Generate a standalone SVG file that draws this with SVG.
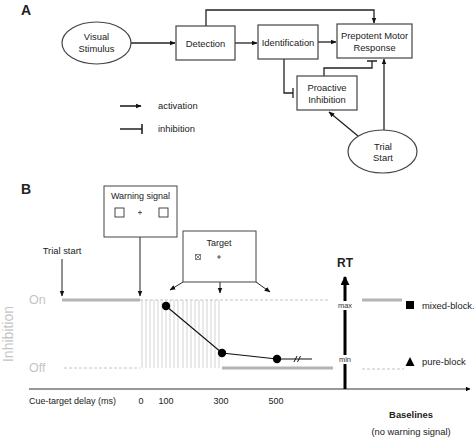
<svg xmlns="http://www.w3.org/2000/svg" width="474" height="438" viewBox="0 0 474 438">
<defs>
<marker id="ah" viewBox="0 0 10 10" refX="9" refY="5" markerWidth="6" markerHeight="6" markerUnits="userSpaceOnUse" orient="auto"><path d="M0,1 L10,5 L0,9 z" fill="#111"/></marker>
<marker id="ahb" viewBox="0 0 10 10" refX="9" refY="5" markerWidth="4" markerHeight="4" orient="auto"><path d="M0,0 L10,5 L0,10 z" fill="#000"/></marker>
<marker id="ahr" viewBox="0 0 10 10" refX="9" refY="5" markerWidth="9" markerHeight="9" markerUnits="userSpaceOnUse" orient="auto"><path d="M0,0 L10,5 L0,10 z" fill="#000"/></marker>
</defs>
<style>
.t{font-family:"Liberation Sans",Arial,sans-serif;font-size:9.4px;fill:#222}
.c{text-anchor:middle}
.b{font-weight:bold}
.box{fill:#fff;stroke:#444;stroke-width:1.2}
.ln{fill:none;stroke:#222;stroke-width:1.3}
.g{font-family:"Liberation Sans",Arial,sans-serif;font-size:12.5px;fill:#c4c4c4}
.gl{stroke:#b4b4b4;stroke-width:3;fill:none}
.dl{stroke:#c4c4c4;stroke-width:1;stroke-dasharray:3,2;fill:none}
.st{stroke:#c8c8c8;stroke-width:0.8}
</style>
<text class="t b" x="21" y="15" style="font-size:14px">A</text>
<text class="t b" x="21" y="194" style="font-size:14px">B</text>

<g id="connectors">
<path class="ln" d="M131,43 H175" marker-end="url(#ah)"/>
<path class="ln" d="M206,26 V10 H374 V23" marker-end="url(#ah)"/>
<path class="ln" d="M235,43 H257" marker-end="url(#ah)"/>
<path class="ln" d="M318,42 H336" marker-end="url(#ah)"/>
<path class="ln" d="M284,59 V93 H293 M293,88 V98"/>
<path class="ln" d="M324,76 V68 H372 V61 M367,61 H377"/>
<path class="ln" d="M358,136 L329,112" marker-end="url(#ah)"/>
<path class="ln" d="M384,130 V59" marker-end="url(#ah)"/>
<path class="ln" d="M120,106 H141" marker-end="url(#ah)" style="stroke-width:1.6"/>
<path class="ln" d="M120,129 H142 M142,124 V134" style="stroke-width:1.6"/>
<path class="ln" d="M140,237 V296" marker-end="url(#ah)" style="stroke-width:1"/>
<path class="ln" d="M62,259 V296" marker-end="url(#ah)" style="stroke-width:1"/>
<path class="ln" d="M183,282 L170,290" marker-end="url(#ah)" style="stroke-width:1"/>
<path class="ln" d="M220,282 V293" marker-end="url(#ah)" style="stroke-width:1"/>
<path class="ln" d="M256,282 L270,292" marker-end="url(#ah)" style="stroke-width:1"/>
</g>

<g id="visual-stimulus">
<ellipse class="box" cx="96.5" cy="43" rx="34.5" ry="21"/>
<text class="t c" x="96.5" y="40">Visual</text>
<text class="t c" x="96.5" y="52">Stimulus</text>
</g>
<g id="detection">
<rect class="box" x="176" y="26" width="59" height="34"/>
<text class="t c" x="205.5" y="46.5">Detection</text>
</g>
<g id="identification">
<rect class="box" x="258" y="25" width="60" height="34"/>
<text class="t c" x="288" y="45.5">Identification</text>
</g>
<g id="prepotent">
<rect class="box" x="337" y="24" width="75" height="34"/>
<text class="t c" x="374.5" y="39">Prepotent Motor</text>
<text class="t c" x="374.5" y="51">Response</text>
</g>
<g id="proactive">
<rect class="box" x="297" y="76" width="60" height="34"/>
<text class="t c" x="327" y="91">Proactive</text>
<text class="t c" x="327" y="103">Inhibition</text>
</g>
<g id="trial-start">
<ellipse class="box" cx="382.5" cy="151.5" rx="34.5" ry="21.5"/>
<text class="t c" x="383" y="150">Trial</text>
<text class="t c" x="383" y="161">Start</text>
</g>
<g id="legend">
<text class="t" x="158" y="109">activation</text>
<text class="t" x="158" y="132">inhibition</text>
</g>

<g id="warning-signal">
<rect class="box" x="104" y="186" width="73" height="51" style="stroke-width:1"/>
<text class="t c" x="140.5" y="199" style="font-size:9px">Warning signal</text>
<rect x="115" y="208" width="9" height="9" fill="none" stroke="#333" stroke-width="0.9"/>
<rect x="159" y="208" width="9" height="9" fill="none" stroke="#333" stroke-width="0.9"/>
<path d="M138,212.5 H142 M140,210.5 V214.5" stroke="#333" stroke-width="0.8"/>
</g>
<g id="target">
<rect class="box" x="183" y="231" width="73" height="51" style="stroke-width:1"/>
<text class="t c" x="219" y="246" style="font-size:9px">Target</text>
<g stroke="#555" stroke-width="0.7" fill="none">
<rect x="195.5" y="254.5" width="5" height="5"/>
<path d="M195.5,254.5 L200.5,259.5 M200.5,254.5 L195.5,259.5"/>
</g>
<path d="M217,257 H221 M219,255 V259" stroke="#333" stroke-width="0.8"/>
</g>
<g id="trial-start-label">
<text class="t c" x="62" y="254">Trial start</text>
</g>

<g id="inhibition-plot">
<text class="g" x="29" y="304">On</text>
<text class="g" x="29" y="372">Off</text>
<text class="g c" transform="translate(13,334) rotate(-90)" style="font-size:14px">Inhibition</text>
<path class="gl" d="M62,300 H140"/>
<path class="dl" d="M140,300 H330"/>
<path class="dl" d="M64,368 H140"/>
<path class="gl" d="M222,368 H333"/>
<g class="st">
<path d="M142,300V368M146,300V368M150,300V368M154,300V368M158,300V368M162,300V368M166,300V368M170,300V368M174,300V368M178,300V368M183,300V368M187,300V368M191,300V368M195,300V368M199,300V368M203,300V368M207,300V368M211,300V368M215,300V368M219,300V368"/>
</g>
<path d="M166,306 L222,353 L277,359 H312" fill="none" stroke="#111" stroke-width="1.2"/>
<path d="M294,362 L297,356 M297.5,362 L300.5,356" stroke="#111" stroke-width="1"/>
<circle cx="166" cy="306" r="4.2" fill="#000"/>
<circle cx="222" cy="353" r="4.2" fill="#000"/>
<circle cx="277" cy="359" r="4.2" fill="#000"/>
</g>

<g id="axes">
<path d="M29,389 H470" stroke="#333" stroke-width="1.2" marker-end="url(#ahb)"/>
<path d="M345,389 V277" stroke="#000" stroke-width="3" marker-end="url(#ahr)"/>
<rect x="337" y="301" width="16" height="9" fill="#fff"/>
<rect x="338" y="355" width="14" height="9" fill="#fff"/>
<text x="345" y="308" text-anchor="middle" font-family="Liberation Sans, Arial, sans-serif" font-size="7.5" fill="#333">max</text>
<text x="345" y="362" text-anchor="middle" font-family="Liberation Sans, Arial, sans-serif" font-size="7.5" fill="#333">min</text>
<text class="t c b" x="345" y="267" style="font-size:12px">RT</text>
<text class="t" x="29" y="404" style="font-size:9px">Cue-target delay (ms)</text>
<text class="t c" x="141" y="404" style="font-size:9px">0</text>
<text class="t c" x="166" y="404" style="font-size:9px">100</text>
<text class="t c" x="221" y="404" style="font-size:9px">300</text>
<text class="t c" x="276" y="404" style="font-size:9px">500</text>
</g>

<g id="baselines">
<path class="gl" d="M362,300 H402"/>
<path class="dl" d="M362,369 H404"/>
<rect x="406" y="301" width="8" height="8" fill="#000"/>
<path d="M405.5,366 L410,357 L414.5,366 z" fill="#000"/>
<text class="t" x="422" y="309">mixed-block.</text>
<text class="t" x="422" y="365">pure-block</text>
<text class="t c b" x="411" y="418">Baselines</text>
<text class="t c" x="411" y="435">(no warning signal)</text>
</g>
</svg>
